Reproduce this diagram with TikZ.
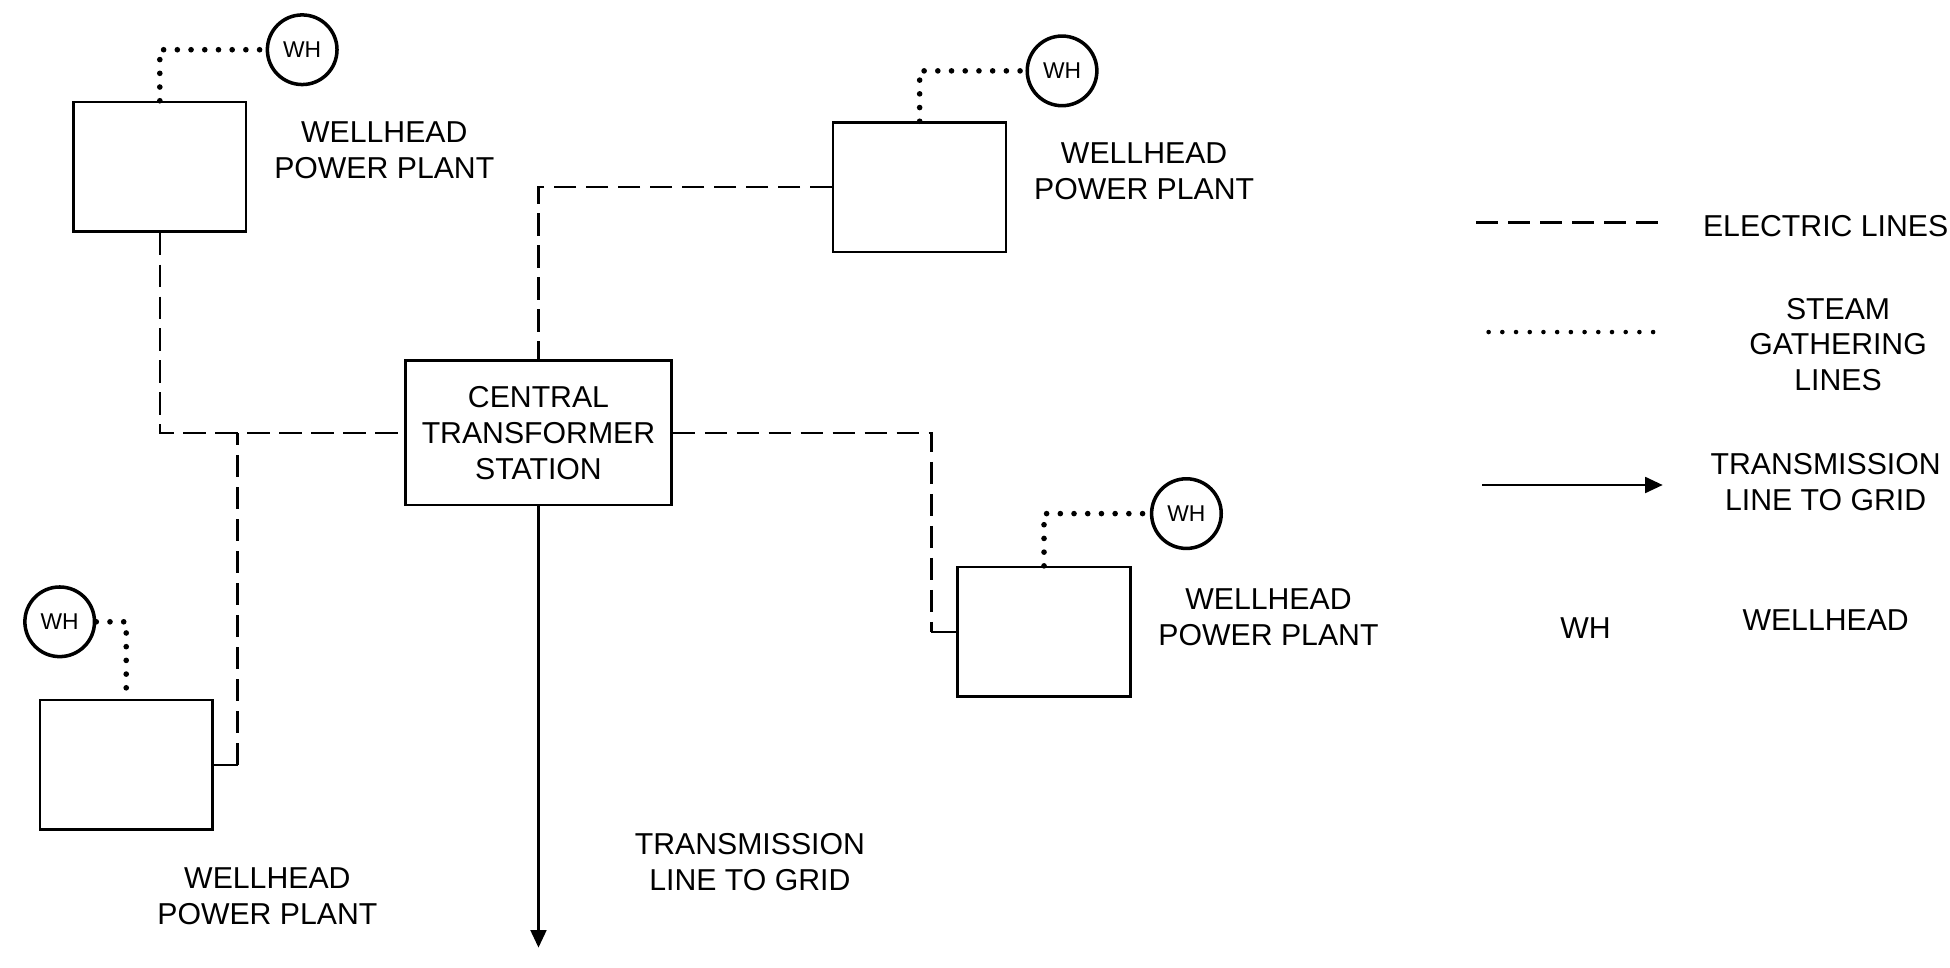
\documentclass[tikz,border=0pt]{standalone}
\usepackage{fontspec}
\setmainfont{Liberation Sans}
\usetikzlibrary{arrows.meta}
\tikzset{
  plant/.style={draw, line width=0.7pt, minimum width=139*0.012436cm, minimum height=104*0.012436cm, inner sep=0pt},
  wh/.style={draw, circle, line width=1pt, minimum size=56*0.012436cm, inner sep=0pt, font=\fontsize{6.5}{7}\selectfont},
  lbl/.style={align=center, font=\fontsize{8.6}{10.2}\selectfont},
  elec/.style={line width=0.7pt, dash pattern=on 6.3pt off 2.8pt},
  steam/.style={line width=1.6pt, line cap=round, dash pattern=on 0pt off 3.9pt},
  trans/.style={line width=0.7pt, -{Triangle[length=5pt,width=4.5pt]}},
}
\begin{document}
\begin{tikzpicture}[x=0.012436cm, y=-0.012436cm]
\useasboundingbox (0,0) rectangle (1568,778);
% plants
\node[plant] (p1) at (128.5,134) {};
\node[plant] (p2) at (739.5,150.5) {};
\node[plant] (p3) at (839.5,508) {};
\node[plant] (p4) at (101.5,615) {};
\node[plant, minimum width=214*0.012436cm, minimum height=116*0.012436cm, lbl] (cts) at (433,348) {CENTRAL\\TRANSFORMER\\STATION};
% wellheads
\node[wh] (w1) at (243,40) {WH};
\node[wh] (w2) at (854,57) {WH};
\node[wh] (w3) at (954,413) {WH};
\node[wh] (w4) at (48,500) {WH};
% labels
\node[lbl] (l1) at (309,121) {WELLHEAD\\POWER PLANT};
\node[lbl] (l2) at (920,138) {WELLHEAD\\POWER PLANT};
\node[lbl] (l3) at (1020,496) {WELLHEAD\\POWER PLANT};
\node[lbl] (l4) at (215,721) {WELLHEAD\\POWER PLANT};
\node[lbl] (lt) at (603,693) {TRANSMISSION\\LINE TO GRID};
% steam lines
\draw[steam] (p1.north) |- (w1.west);
\draw[steam] (p2.north) |- (w2.west);
\draw[steam] (p3.north) |- (w3.west);
\draw[steam] (w4.east) -| (p4.north);
% electric lines
\draw[elec] (p1.south) |- (cts.west);
\coordinate (j4) at (191,615);
\draw[line width=0.7pt] (p4.east) -- (j4);
\draw[elec] (j4) -- (191,348);
\draw[elec] (p2.west) -| (cts.north);
\coordinate (j3) at (749,508);
\draw[elec] (cts.east) -| (j3);
\draw[line width=0.7pt] (j3) -- (p3.west);
% transmission
\coordinate (g) at (433,762);
\draw[trans] (cts.south) -- (g);
% legend
\coordinate (a1) at (1187,179); \coordinate (b1) at (1338,179);
\draw[elec] (a1) -- (b1);
\node[lbl] (t1) at (1468,182) {ELECTRIC LINES};
\coordinate (a2) at (1197,267); \coordinate (b2) at (1338,267);
\draw[steam, line width=1.3pt] (a2) -- (b2);
\node[lbl] (t2) at (1478,277) {STEAM\\GATHERING\\LINES};
\coordinate (a3) at (1192,390); \coordinate (b3) at (1337,390);
\draw[trans] (a3) -- (b3);
\node[lbl] (t3) at (1468,388) {TRANSMISSION\\LINE TO GRID};
\node[lbl] (t4) at (1275,505) {WH};
\node[lbl] (t5) at (1468,499) {WELLHEAD};
\end{tikzpicture}
\end{document}
